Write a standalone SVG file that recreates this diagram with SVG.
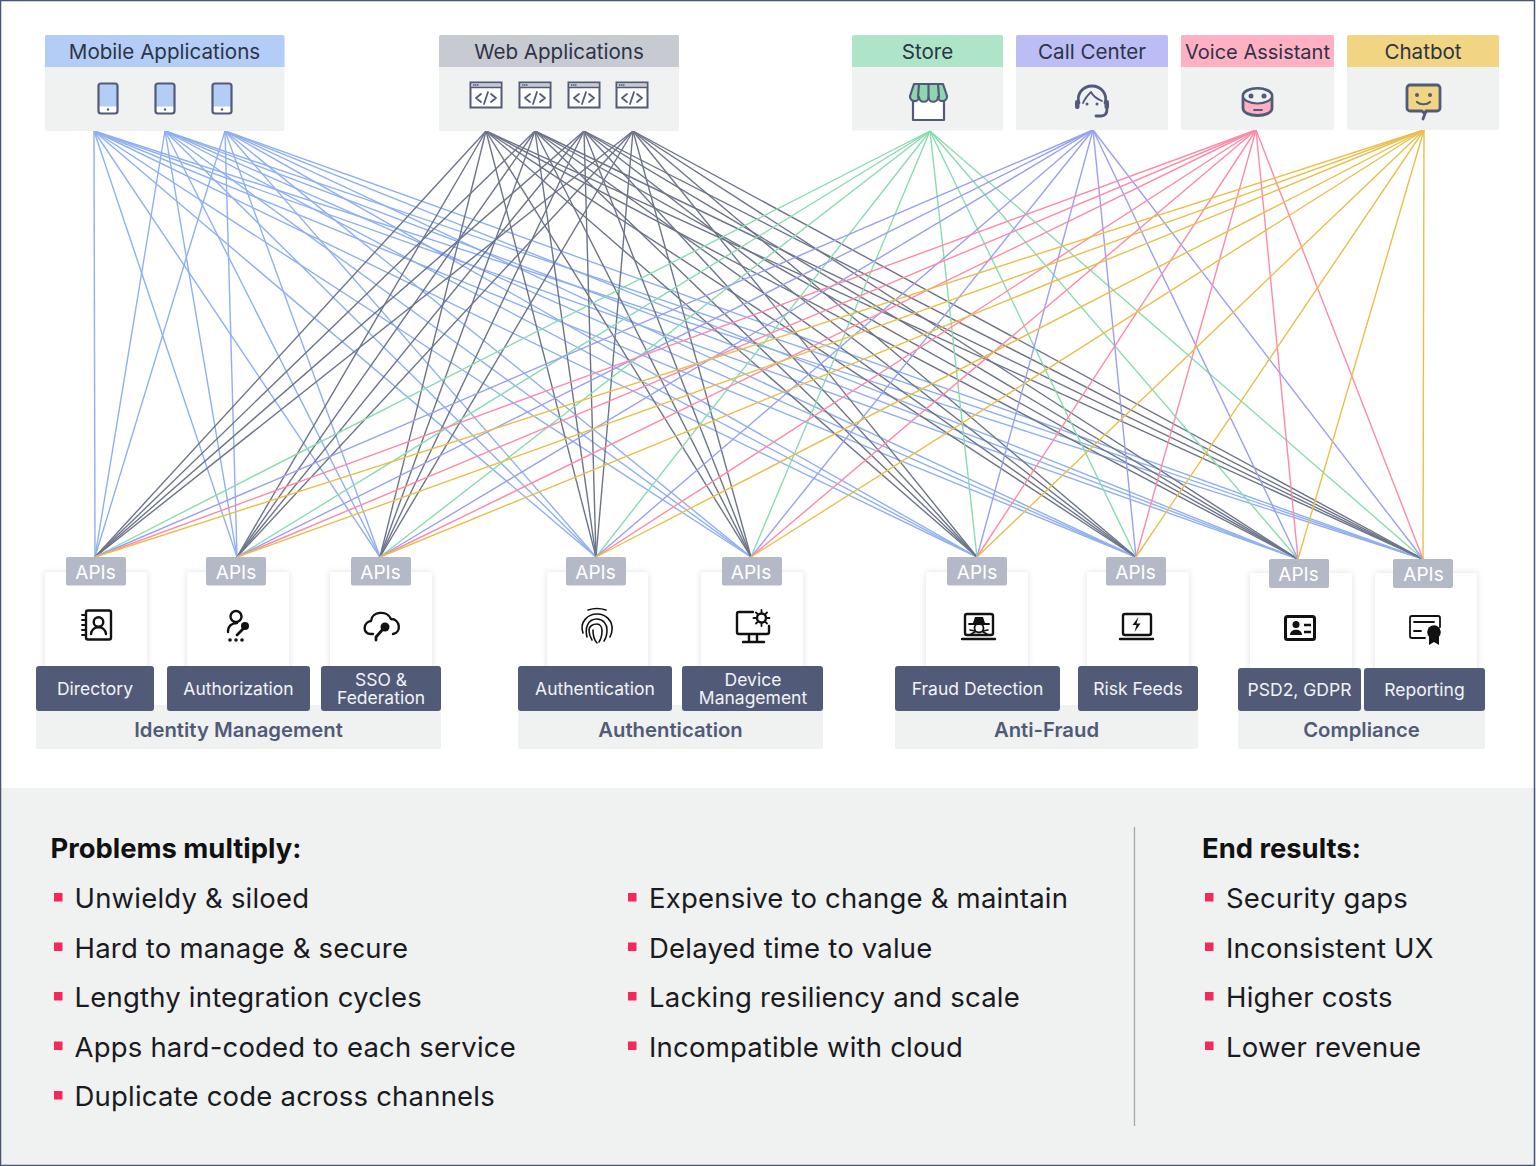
<svg xmlns="http://www.w3.org/2000/svg" width="1536" height="1166" viewBox="0 0 1536 1166">
<defs>
<style>
text{font-family:Inter,"Noto Sans","Liberation Sans",sans-serif}
.hd{font-size:20.6px;fill:#2d3446;text-anchor:middle}
.api{font-size:19px;fill:#fff;text-anchor:middle}
.lb{font-size:17.5px;fill:#f2f3f6;text-anchor:middle}
.gt{font-size:20.3px;font-weight:600;fill:#515b78;text-anchor:middle}
.h2{font-size:27.4px;font-weight:700;fill:#111}
.b{font-size:27.5px;fill:#1a1a1f;letter-spacing:.2px}
.bx{fill:#f0f1f1}
.ap{fill:#b3b9c6}
.nl{fill:#515b78}
.card{fill:#fff;filter:url(#sh)}
.bu{fill:#f5285a}
.m{stroke:#8fb0f0}.w{stroke:#6c7488}.s{stroke:#8adbb0}.c{stroke:#9aa0f0}.v{stroke:#ff8aa5}.y{stroke:#e9bf4b}
#conn line{stroke-width:1.4;fill:none}
.i{fill:none;stroke:#515b78;stroke-width:2.2;stroke-linecap:round;stroke-linejoin:round}
.k{fill:none;stroke:#111;stroke-width:2.4;stroke-linecap:round;stroke-linejoin:round}
.kf{fill:#111}
.t2{stroke-width:1.8}
.t3{stroke-width:2.8}
</style>
<filter id="sh" x="-20%" y="-20%" width="140%" height="140%"><feDropShadow dx="0" dy="0" stdDeviation="3" flood-color="#000" flood-opacity=".12"/></filter>
<g id="phone"><rect x="-9.5" y="-15" width="19" height="30" rx="2.5" fill="#b4cdf7"/><path d="M-9 8h18v5a2 2 0 0 1-2 2h-14a2 2 0 0 1-2-2z" fill="#fff"/><rect x="-9.5" y="-15" width="19" height="30" rx="2.5" class="i"/><circle cy="11" r="1.2" fill="#515b78"/></g>
<g id="web"><rect x="-15.500" y="-12.500" width="31" height="25" fill="#fff" stroke="#515b78" stroke-width="2"/><rect x="-14.500" y="-11.500" width="29" height="4" fill="#c8cad2"/><path d="M-15.500 -7.500h31" stroke="#515b78" stroke-width="1.500"/><path d="M-13-10h1.500M-11-10h1.500M-9-10h1.500" stroke="#515b78" stroke-width="1.500"/><path d="M-5-1l-5 4 5 4M5-1l5 4-5 4M2-3l-4 12" class="i t2"/></g>
</defs>
<rect width="1536" height="1166" fill="#fff"/>
<g id="conn">
<line class="m" x1="94" y1="131" x2="95" y2="557"/><line class="m" x1="94" y1="131" x2="237" y2="557"/><line class="m" x1="94" y1="131" x2="380" y2="557"/><line class="m" x1="94" y1="131" x2="596" y2="557"/><line class="m" x1="94" y1="131" x2="751" y2="557"/><line class="m" x1="94" y1="131" x2="977" y2="557"/><line class="m" x1="94" y1="131" x2="1136" y2="557"/><line class="m" x1="94" y1="131" x2="1298" y2="559"/><line class="m" x1="94" y1="131" x2="1423" y2="559"/>
<line class="m" x1="165" y1="131" x2="95" y2="557"/><line class="m" x1="165" y1="131" x2="237" y2="557"/><line class="m" x1="165" y1="131" x2="380" y2="557"/><line class="m" x1="165" y1="131" x2="596" y2="557"/><line class="m" x1="165" y1="131" x2="751" y2="557"/><line class="m" x1="165" y1="131" x2="977" y2="557"/><line class="m" x1="165" y1="131" x2="1136" y2="557"/><line class="m" x1="165" y1="131" x2="1298" y2="559"/><line class="m" x1="165" y1="131" x2="1423" y2="559"/>
<line class="m" x1="225" y1="131" x2="95" y2="557"/><line class="m" x1="225" y1="131" x2="237" y2="557"/><line class="m" x1="225" y1="131" x2="380" y2="557"/><line class="m" x1="225" y1="131" x2="596" y2="557"/><line class="m" x1="225" y1="131" x2="751" y2="557"/><line class="m" x1="225" y1="131" x2="977" y2="557"/><line class="m" x1="225" y1="131" x2="1136" y2="557"/><line class="m" x1="225" y1="131" x2="1298" y2="559"/><line class="m" x1="225" y1="131" x2="1423" y2="559"/>
<line class="w" x1="486" y1="131" x2="95" y2="557"/><line class="w" x1="486" y1="131" x2="237" y2="557"/><line class="w" x1="486" y1="131" x2="380" y2="557"/><line class="w" x1="486" y1="131" x2="596" y2="557"/><line class="w" x1="486" y1="131" x2="751" y2="557"/><line class="w" x1="486" y1="131" x2="977" y2="557"/><line class="w" x1="486" y1="131" x2="1136" y2="557"/><line class="w" x1="486" y1="131" x2="1298" y2="559"/><line class="w" x1="486" y1="131" x2="1423" y2="559"/>
<line class="w" x1="535" y1="131" x2="95" y2="557"/><line class="w" x1="535" y1="131" x2="237" y2="557"/><line class="w" x1="535" y1="131" x2="380" y2="557"/><line class="w" x1="535" y1="131" x2="596" y2="557"/><line class="w" x1="535" y1="131" x2="751" y2="557"/><line class="w" x1="535" y1="131" x2="977" y2="557"/><line class="w" x1="535" y1="131" x2="1136" y2="557"/><line class="w" x1="535" y1="131" x2="1298" y2="559"/><line class="w" x1="535" y1="131" x2="1423" y2="559"/>
<line class="w" x1="584" y1="131" x2="95" y2="557"/><line class="w" x1="584" y1="131" x2="237" y2="557"/><line class="w" x1="584" y1="131" x2="380" y2="557"/><line class="w" x1="584" y1="131" x2="596" y2="557"/><line class="w" x1="584" y1="131" x2="751" y2="557"/><line class="w" x1="584" y1="131" x2="977" y2="557"/><line class="w" x1="584" y1="131" x2="1136" y2="557"/><line class="w" x1="584" y1="131" x2="1298" y2="559"/><line class="w" x1="584" y1="131" x2="1423" y2="559"/>
<line class="w" x1="633" y1="131" x2="95" y2="557"/><line class="w" x1="633" y1="131" x2="237" y2="557"/><line class="w" x1="633" y1="131" x2="380" y2="557"/><line class="w" x1="633" y1="131" x2="596" y2="557"/><line class="w" x1="633" y1="131" x2="751" y2="557"/><line class="w" x1="633" y1="131" x2="977" y2="557"/><line class="w" x1="633" y1="131" x2="1136" y2="557"/><line class="w" x1="633" y1="131" x2="1298" y2="559"/><line class="w" x1="633" y1="131" x2="1423" y2="559"/>
<line class="s" x1="930" y1="131" x2="95" y2="557"/><line class="s" x1="930" y1="131" x2="237" y2="557"/><line class="s" x1="930" y1="131" x2="380" y2="557"/><line class="s" x1="930" y1="131" x2="596" y2="557"/><line class="s" x1="930" y1="131" x2="751" y2="557"/><line class="s" x1="930" y1="131" x2="977" y2="557"/><line class="s" x1="930" y1="131" x2="1136" y2="557"/><line class="s" x1="930" y1="131" x2="1298" y2="559"/><line class="s" x1="930" y1="131" x2="1423" y2="559"/>
<line class="c" x1="1093" y1="130" x2="95" y2="557"/><line class="c" x1="1093" y1="130" x2="237" y2="557"/><line class="c" x1="1093" y1="130" x2="380" y2="557"/><line class="c" x1="1093" y1="130" x2="596" y2="557"/><line class="c" x1="1093" y1="130" x2="751" y2="557"/><line class="c" x1="1093" y1="130" x2="977" y2="557"/><line class="c" x1="1093" y1="130" x2="1136" y2="557"/><line class="c" x1="1093" y1="130" x2="1298" y2="559"/><line class="c" x1="1093" y1="130" x2="1423" y2="559"/>
<line class="v" x1="1256" y1="130" x2="95" y2="557"/><line class="v" x1="1256" y1="130" x2="237" y2="557"/><line class="v" x1="1256" y1="130" x2="380" y2="557"/><line class="v" x1="1256" y1="130" x2="596" y2="557"/><line class="v" x1="1256" y1="130" x2="751" y2="557"/><line class="v" x1="1256" y1="130" x2="977" y2="557"/><line class="v" x1="1256" y1="130" x2="1136" y2="557"/><line class="v" x1="1256" y1="130" x2="1298" y2="559"/><line class="v" x1="1256" y1="130" x2="1423" y2="559"/>
<line class="y" x1="1424" y1="130" x2="95" y2="557"/><line class="y" x1="1424" y1="130" x2="237" y2="557"/><line class="y" x1="1424" y1="130" x2="380" y2="557"/><line class="y" x1="1424" y1="130" x2="596" y2="557"/><line class="y" x1="1424" y1="130" x2="751" y2="557"/><line class="y" x1="1424" y1="130" x2="977" y2="557"/><line class="y" x1="1424" y1="130" x2="1136" y2="557"/><line class="y" x1="1424" y1="130" x2="1298" y2="559"/><line class="y" x1="1424" y1="130" x2="1423" y2="559"/>
</g>

<g id="mobile"><rect class="bx" x="45" y="35" width="239.500" height="96" rx="2"/><path d="M47 35h235.500a2 2 0 0 1 2 2v30H45V37a2 2 0 0 1 2-2z" fill="#b4cdf7"/><text class="hd" x="164.500" y="58.500">Mobile Applications</text><use href="#phone" x="108" y="98.500"/><use href="#phone" x="165" y="98.500"/><use href="#phone" x="222" y="98.500"/></g>
<g id="webapps"><rect class="bx" x="439" y="35" width="240" height="96" rx="2"/><path d="M441 35h236a2 2 0 0 1 2 2v30H439V37a2 2 0 0 1 2-2z" fill="#c8cad2"/><text class="hd" x="559" y="58.500">Web Applications</text><use href="#web" x="486" y="95"/><use href="#web" x="535" y="95"/><use href="#web" x="584" y="95"/><use href="#web" x="632" y="95"/></g>
<g id="store"><rect class="bx" x="852" y="35" width="151" height="95.500" rx="2"/><path d="M854 35h147a2 2 0 0 1 2 2v30H852V37a2 2 0 0 1 2-2z" fill="#aee5c8"/><text class="hd" x="927.500" y="58.500">Store</text>
<path d="M913 101v19h31v-19" style="fill:#fff" class="i"/><path d="M914 84h29l4 12a4.500 4.500 0 0 1-9 1 4.500 4.500 0 0 1-9.500 0 4.500 4.500 0 0 1-9.500 0 4.500 4.500 0 0 1-9 -1z" style="fill:#8fd6b0" class="i"/><path d="M919 84l-1 13M928.500 84v13M938 84l1 13" class="i"/></g>
<g id="callcenter"><rect class="bx" x="1016" y="35" width="152" height="95" rx="2"/><path d="M1018 35h148a2 2 0 0 1 2 2v30h-152V37a2 2 0 0 1 2-2z" fill="#bcbdf5"/><text class="hd" x="1092" y="58.500">Call Center</text>
<path d="M1079 103c-3-9 4-17 13-17s16 8 13 17" class="i t3"/><path d="M1083 103c2-5 5-8 8-11 2 4 6 7 11 9" class="i t2"/><rect x="1075" y="100" width="4.500" height="9" rx="2" fill="#515b78"/><rect x="1104.500" y="100" width="4.500" height="9" rx="2" fill="#515b78"/><path d="M1107 109c0 5-2 7-6 7h-5" class="i t3"/><circle cx="1087" cy="104" r="1.500" fill="#515b78"/><circle cx="1097" cy="104" r="1.500" fill="#515b78"/></g>
<g id="voice"><rect class="bx" x="1181" y="35" width="153" height="95" rx="2"/><path d="M1183 35h149a2 2 0 0 1 2 2v30h-153V37a2 2 0 0 1 2-2z" fill="#ffb1c3"/><text class="hd" style="font-size:20px" x="1257.500" y="58.500">Voice Assistant</text>
<path d="M1243 96c0-10 29-10 29 0v12c0 10-29 10-29 0z" style="fill:#ffb1c3" class="i t3"/><ellipse cx="1257.500" cy="96" rx="14.500" ry="7.500" style="fill:#f0f1f1" class="i"/><circle cx="1251" cy="96" r="2.500" fill="#515b78"/><circle cx="1264" cy="96" r="2.500" fill="#515b78"/><path d="M1254 110h8" class="i t2"/></g>
<g id="chatbot"><rect class="bx" x="1347" y="35" width="152" height="95" rx="2"/><path d="M1349 35h148a2 2 0 0 1 2 2v30h-152V37a2 2 0 0 1 2-2z" fill="#f1d583"/><text class="hd" x="1423" y="58.500">Chatbot</text>
<path d="M1410 85h27a3 3 0 0 1 3 3v20a3 3 0 0 1-3 3h-10l-3 2-2-2h-12a3 3 0 0 1-3-3V88a3 3 0 0 1 3-3z" style="fill:#f1d583" class="i t3"/><path d="M1426 111l-3 8" class="i t3"/><circle cx="1417" cy="95" r="2" fill="#515b78"/><circle cx="1430" cy="95" r="2" fill="#515b78"/><path d="M1417 102c3 3 10 3 13 0" class="i"/></g>

<g id="identity"><rect class="bx" x="36" y="705" width="405" height="44" rx="2"/><text class="gt" x="238.500" y="737">Identity Management</text></g>
<g id="authgroup"><rect class="bx" x="518" y="705" width="305" height="44" rx="2"/><text class="gt" x="670.500" y="737">Authentication</text></g>
<g id="antifraud"><rect class="bx" x="895" y="705" width="303" height="44" rx="2"/><text class="gt" x="1046.500" y="737">Anti-Fraud</text></g>
<g id="compliance"><rect class="bx" x="1238" y="705" width="247" height="44" rx="2"/><text class="gt" x="1361.500" y="737">Compliance</text></g>

<g id="directory"><rect class="card" x="45" y="572" width="102" height="100" rx="3"/><rect class="ap" x="66" y="557" width="60" height="28.500" rx="2"/><text class="api" x="95.500" y="578.500">APIs</text><rect class="nl" x="36" y="666" width="118" height="45" rx="3"/><text class="lb" x="95" y="695">Directory</text>
<rect x="86" y="610.500" width="25" height="29" rx="2" class="k"/><circle cx="98.500" cy="622" r="4.800" class="k"/><path d="M91 634c1-9 14-9 15 0" class="k"/><path d="M82 615h4M82 620h4M82 625h4M82 630h4M82 635h4" class="k t2"/></g>
<g id="authorization"><rect class="card" x="187" y="572" width="102" height="100" rx="3"/><rect class="ap" x="206" y="557" width="60" height="28.500" rx="2"/><text class="api" x="236" y="578.500">APIs</text><rect class="nl" x="167" y="666" width="143" height="45" rx="3"/><text class="lb" x="238.500" y="695">Authorization</text>
<circle cx="236" cy="616.500" r="5.500" class="k"/><path d="M228 632c0-6 4-9 9-9" class="k"/><circle cx="245" cy="626" r="4" class="kf"/><path d="M245 627l-8 8" class="k t3"/><circle cx="230" cy="640" r="1.800" class="kf"/><circle cx="236" cy="640" r="1.800" class="kf"/><circle cx="242" cy="640" r="1.800" class="kf"/></g>
<g id="sso"><rect class="card" x="330" y="572" width="102" height="100" rx="3"/><rect class="ap" x="351" y="557" width="60" height="28.500" rx="2"/><text class="api" x="380.500" y="578.500">APIs</text><rect class="nl" x="321" y="666" width="120" height="45" rx="3"/><text class="lb" x="381" y="686">SSO &amp;</text><text class="lb" x="381" y="704">Federation</text>
<path d="M373 634h-2c-9 0-8-12 0-13 1-10 16-11 20-2 9 0 11 13 2 15" class="k"/><circle cx="385" cy="627" r="4.500" class="kf"/><path d="M384 628l-8 9v3" class="k t3"/></g>

<g id="authentication"><rect class="card" x="547" y="572" width="101" height="100" rx="3"/><rect class="ap" x="566" y="557" width="60" height="28.500" rx="2"/><text class="api" x="595.500" y="578.500">APIs</text><rect class="nl" x="518" y="666" width="154" height="45" rx="3"/><text class="lb" x="595" y="695">Authentication</text>
<path d="M588 610c6-2 12-2 18 0M583 633c-4-11 5-19 14-19s16 7 15 16c0 3-1 5-2 7M587 637c-2-8 0-18 10-18 6 0 10 5 10 11 0 4-1 8-3 11M592 640c-2-3-3-7-3-10 0-4 4-6 8-6 3 0 5 3 5 7 0 4-1 8-3 11M597 643c-3-3-4-8-4-13" class="k" style="stroke-width:1.600"/></g>
<g id="device"><rect class="card" x="701" y="572" width="102" height="100" rx="3"/><rect class="ap" x="722" y="557" width="60" height="28.500" rx="2"/><text class="api" x="751" y="578.500">APIs</text><rect class="nl" x="682" y="666" width="141" height="45" rx="3"/><text class="lb" x="753" y="686">Device</text><text class="lb" x="753" y="704">Management</text>
<path d="M753 612h-14a2 2 0 0 0-2 2v18a2 2 0 0 0 2 2h28a2 2 0 0 0 2-2v-6M749 634v8M757 634v8M743 642h21" class="k"/><circle cx="761.500" cy="618" r="4.500" class="k"/><path d="M761.500 610v3M761.500 623v3M753.500 618h3M766.500 618h3M756 612.500l2 2M765 621.500l2 2M767 612.500l-2 2M758 621.500l-2 2" class="k t2"/></g>

<g id="fraud"><rect class="card" x="926" y="572" width="102" height="100" rx="3"/><rect class="ap" x="947" y="557" width="60" height="28.500" rx="2"/><text class="api" x="977" y="578.500">APIs</text><rect class="nl" x="895" y="666" width="165" height="45" rx="3"/><text class="lb" x="977.500" y="695">Fraud Detection</text>
<rect x="965" y="614" width="28" height="21" rx="2" class="k"/><path d="M962 639h33" class="k"/><path d="M969 624h20" class="k t2"/><path d="M973 623l2-6h8l2 6z" class="kf"/><circle cx="979" cy="628" r="4.500" class="k t2"/><path d="M970 630l5 1M988 630l-5 1M971 634l4-2M987 634l-4-2" class="k" style="stroke-width:1.600"/></g>
<g id="riskfeeds"><rect class="card" x="1087" y="572" width="102" height="100" rx="3"/><rect class="ap" x="1106" y="557" width="60" height="28.500" rx="2"/><text class="api" x="1135.500" y="578.500">APIs</text><rect class="nl" x="1078" y="666" width="120" height="45" rx="3"/><text class="lb" x="1138" y="695">Risk Feeds</text>
<rect x="1123" y="614" width="28" height="21" rx="2" class="k"/><path d="M1120 639h33" class="k"/><path d="M1138.500 617l-6 8h4l-2 7 6-8.500h-4z" class="kf"/></g>

<g id="psd2"><rect class="card" x="1250" y="573" width="102" height="100" rx="3"/><rect class="ap" x="1269" y="559" width="60" height="29" rx="2"/><text class="api" x="1298.500" y="581">APIs</text><rect class="nl" x="1238" y="668" width="123" height="43" rx="3"/><text class="lb" x="1299.500" y="696">PSD2, GDPR</text>
<rect x="1285.500" y="616.500" width="29" height="23" rx="2" fill="none" stroke="#111" stroke-width="3"/><circle cx="1296" cy="624.500" r="3.500" class="kf"/><path d="M1290 635c0-7 12-7 12 0z" class="kf"/><path d="M1304 625h7M1304 632h7" class="k" style="stroke-width:2.500;stroke-linecap:butt"/></g>
<g id="reporting"><rect class="card" x="1375" y="573" width="102" height="100" rx="3"/><rect class="ap" x="1393" y="559" width="60" height="29" rx="2"/><text class="api" x="1423.500" y="581">APIs</text><rect class="nl" x="1364" y="668" width="121" height="43" rx="3"/><text class="lb" x="1424.500" y="696">Reporting</text>
<path d="M1425 638h-13a2 2 0 0 1-2-2v-18a2 2 0 0 1 2-2h26a2 2 0 0 1 2 2v9M1414 622h20M1414 631h7" class="k t2"/><path d="M1429 636v9l5-3 5 3v-9z" class="kf"/><circle cx="1434" cy="632" r="6.800" class="kf"/></g>

<g id="panel"><rect x="0" y="788" width="1536" height="378" fill="#f0f1f1"/>
<path d="M1134.500 827v299" stroke="#a3a6ab" stroke-width="1.300"/>
<text class="h2" x="50.500" y="858">Problems multiply:</text>
<rect class="bu" x="54" y="893" width="8.500" height="8.500"/><text class="b" x="74.500" y="908">Unwieldy &amp; siloed</text>
<rect class="bu" x="54" y="942.500" width="8.500" height="8.500"/><text class="b" x="74.500" y="957.500">Hard to manage &amp; secure</text>
<rect class="bu" x="54" y="992" width="8.500" height="8.500"/><text class="b" x="74.500" y="1007">Lengthy integration cycles</text>
<rect class="bu" x="54" y="1041.500" width="8.500" height="8.500"/><text class="b" x="74.500" y="1056.500">Apps hard-coded to each service</text>
<rect class="bu" x="54" y="1091" width="8.500" height="8.500"/><text class="b" x="74.500" y="1106">Duplicate code across channels</text>
<rect class="bu" x="628" y="893" width="8.500" height="8.500"/><text class="b" x="649" y="908">Expensive to change &amp; maintain</text>
<rect class="bu" x="628" y="942.500" width="8.500" height="8.500"/><text class="b" x="649" y="957.500">Delayed time to value</text>
<rect class="bu" x="628" y="992" width="8.500" height="8.500"/><text class="b" x="649" y="1007">Lacking resiliency and scale</text>
<rect class="bu" x="628" y="1041.500" width="8.500" height="8.500"/><text class="b" x="649" y="1056.500">Incompatible with cloud</text>
<text class="h2" x="1202" y="858">End results:</text>
<rect class="bu" x="1205" y="893" width="8.500" height="8.500"/><text class="b" x="1226" y="908">Security gaps</text>
<rect class="bu" x="1205" y="942.500" width="8.500" height="8.500"/><text class="b" x="1226" y="957.500">Inconsistent UX</text>
<rect class="bu" x="1205" y="992" width="8.500" height="8.500"/><text class="b" x="1226" y="1007">Higher costs</text>
<rect class="bu" x="1205" y="1041.500" width="8.500" height="8.500"/><text class="b" x="1226" y="1056.500">Lower revenue</text>
</g>
<rect id="frame" x=".5" y=".5" width="1534" height="1165" fill="none" stroke="#4a5573" stroke-width="1.500"/>
</svg>
